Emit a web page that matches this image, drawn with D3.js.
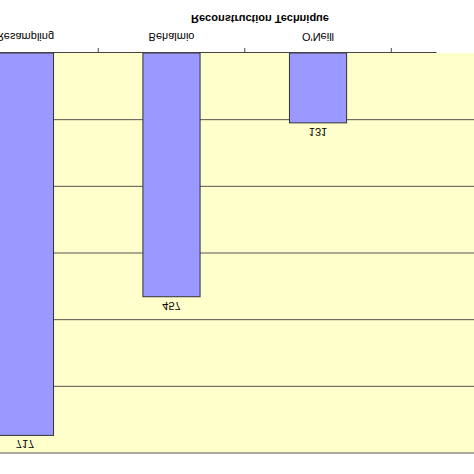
<!DOCTYPE html>
<html><head><meta charset="utf-8">
<script src="https://d3js.org/d3.v7.min.js"></script>
<style>body{margin:0;background:#fff}</style>
</head><body><div id="chart"></div>
<script>
const W = 474, H = 474
const categories = ['Resampling', 'Behalmio', "O'Neill"]
const values = [717, 457, 131]
const gridTicks = [0, 125, 250, 375, 500, 625, 750]

const svg = d3.select('#chart').append('svg').attr('width', W).attr('height', H)
// whole chart is shown flipped vertically
const g = svg.append('g').attr('transform', `translate(0,${H}) scale(1,-1)`)

const plotTop = 21, plotBottom = 421
const x = d3.scaleBand().domain(categories).range([-93, 436]).padding(0.61)
const y = d3.scaleLinear().domain([0, 750]).range([plotBottom, plotTop])

g.append('rect').attr('x', -100).attr('y', plotTop).attr('width', 600).attr('height', plotBottom - plotTop)
    .attr('fill', '#ffffcc')

g.selectAll('line.grid').data(gridTicks.slice(1)).enter().append('line')
    .attr('x1', -100).attr('x2', W)
    .attr('y1', d => y(d)).attr('y2', d => y(d))
    .attr('stroke', '#555').attr('stroke-width', 1)

g.selectAll('rect.bar').data(values).enter().append('rect')
    .attr('x', (d, i) => x(categories[i]))
    .attr('width', x.bandwidth())
    .attr('y', d => y(d))
    .attr('height', d => plotBottom - y(d))
    .attr('fill', '#9999ff').attr('stroke', '#333')

g.selectAll('text.val').data(values).enter().append('text')
    .attr('x', (d, i) => x(categories[i]) + x.bandwidth() / 2)
    .attr('y', d => y(d) - 5)
    .attr('text-anchor', 'middle').attr('font-family', 'Arial, Liberation Sans').attr('font-size', 11)
    .text(d => d)

const axis = g.append('g').attr('transform', `translate(0,${plotBottom})`)
    .call(d3.axisBottom(x).tickSize(0).tickPadding(12))
axis.select('.domain').attr('stroke', '#444')
axis.selectAll('text').attr('font-family', 'Arial, Liberation Sans').attr('font-size', 11).attr('fill', '#000')
const step = x.step()
axis.selectAll('line.sep').data(categories).enter().append('line')
    .attr('x1', d => x(d) + x.bandwidth() / 2 + step / 2)
    .attr('x2', d => x(d) + x.bandwidth() / 2 + step / 2)
    .attr('y1', 0).attr('y2', 5).attr('stroke', '#444')

g.append('text').attr('x', 260).attr('y', 459).attr('text-anchor', 'middle')
    .attr('font-family', 'Arial, Liberation Sans').attr('font-size', 11).attr('font-weight', 'bold')
    .text('Reconstruction Technique')
</script></body></html>
